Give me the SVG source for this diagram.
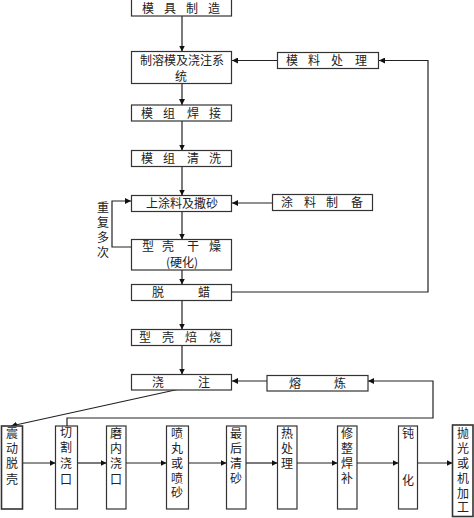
<svg xmlns="http://www.w3.org/2000/svg" width="474" height="518" viewBox="0 0 474 518">
<style>
.box{fill:#fff;stroke:#333;stroke-width:1.2}
.ln{fill:none;stroke:#222;stroke-width:1.2}
text{font-family:"Noto Sans CJK SC","Noto Sans CJK JP",sans-serif;font-size:12px;fill:#222}
.c{text-anchor:middle}
</style>
<defs>
<marker id="ah" viewBox="0 0 8 8" refX="8" refY="4" markerWidth="6" markerHeight="6" orient="auto" markerUnits="userSpaceOnUse">
<path d="M0,0 L8,4 L0,8 Z" fill="#111"/>
</marker>
</defs>
<g id="connectors">
<line class="ln" x1="182" y1="16" x2="182" y2="51.5" marker-end="url(#ah)"/>
<line class="ln" x1="182" y1="83.5" x2="182" y2="105" marker-end="url(#ah)"/>
<line class="ln" x1="182" y1="121" x2="182" y2="150.5" marker-end="url(#ah)"/>
<line class="ln" x1="182" y1="166" x2="182" y2="195.5" marker-end="url(#ah)"/>
<line class="ln" x1="182" y1="211" x2="182" y2="239.5" marker-end="url(#ah)"/>
<line class="ln" x1="182" y1="255" x2="182" y2="284.5" marker-end="url(#ah)"/>
<line class="ln" x1="182" y1="300.5" x2="182" y2="329.5" marker-end="url(#ah)"/>
<line class="ln" x1="182" y1="345.5" x2="182" y2="374.5" marker-end="url(#ah)"/>
<line class="ln" x1="277" y1="60.5" x2="232" y2="60.5" marker-end="url(#ah)"/>
<polyline class="ln" points="232,292 428,292 428,60.5 379,60.5" marker-end="url(#ah)"/>
<line class="ln" x1="272" y1="203" x2="232" y2="203" marker-end="url(#ah)"/>
<polyline class="ln" points="131,247 112,247 112,201 131,201" marker-end="url(#ah)"/>
<line class="ln" x1="267" y1="381" x2="232" y2="381" marker-end="url(#ah)"/>
<polyline class="ln" points="67,426 67,418 433,418 433,381 368,381" marker-end="url(#ah)"/>
<line class="ln" x1="182" y1="388.5" x2="11" y2="426" marker-end="url(#ah)"/>
<line class="ln" x1="23" y1="463" x2="55.5" y2="463" marker-end="url(#ah)"/>
<line class="ln" x1="77.5" y1="463" x2="106.5" y2="463" marker-end="url(#ah)"/>
<line class="ln" x1="126" y1="463" x2="166.5" y2="463" marker-end="url(#ah)"/>
<line class="ln" x1="188.5" y1="463" x2="226.5" y2="463" marker-end="url(#ah)"/>
<line class="ln" x1="246" y1="463" x2="277.5" y2="463" marker-end="url(#ah)"/>
<line class="ln" x1="297" y1="463" x2="337.5" y2="463" marker-end="url(#ah)"/>
<line class="ln" x1="357" y1="463" x2="398.5" y2="463" marker-end="url(#ah)"/>
<line class="ln" x1="417.5" y1="463" x2="452.5" y2="463" marker-end="url(#ah)"/>
</g>
<g id="n1"><rect class="box" x="131.5" y="-1" width="100" height="17"/><text x="148 170 192 214" y="13" class="c">模具制造</text></g>
<g id="n2"><rect class="box" x="131.5" y="51.5" width="100" height="32"/><text x="182" y="65" class="c">制溶模及浇注系</text><text x="181" y="81" class="c">统</text></g>
<g id="n3"><rect class="box" x="277.5" y="52.5" width="101" height="16"/><text x="292 314 337 361" y="65" class="c">模料处理</text></g>
<g id="n4"><rect class="box" x="131.5" y="105" width="100" height="16"/><text x="147 169 193 215" y="117.5" class="c">模组焊接</text></g>
<g id="n5"><rect class="box" x="131.5" y="150.5" width="100" height="16"/><text x="147 169 193 215" y="163" class="c">模组清洗</text></g>
<g id="n6"><rect class="box" x="131.5" y="195.5" width="100" height="16"/><text x="182" y="208" class="c">上涂料及撒砂</text></g>
<g id="n7"><rect class="box" x="272.5" y="194.5" width="100" height="16"/><text x="287 310 332 357" y="207" class="c">涂料制备</text></g>
<g id="n8"><rect class="box" x="131.5" y="239.5" width="100" height="30.5"/><text x="148 168 193 215" y="251" class="c">型壳干燥</text><text x="182" y="267" class="c">(硬化)</text></g>
<g id="loopLabel"><text x="103 103 103 103" y="212 227 242 257" class="c">重复多次</text></g>
<g id="n9"><rect class="box" x="131.5" y="284.5" width="100" height="16"/><text x="158 204" y="297" class="c">脱蜡</text></g>
<g id="n10"><rect class="box" x="131.5" y="329.5" width="100" height="16"/><text x="145 168 191 215" y="342" class="c">型壳焙烧</text></g>
<g id="n11"><rect class="box" x="131.5" y="374.5" width="100" height="15.5"/><text x="158 204" y="386.5" class="c">浇注</text></g>
<g id="n12"><rect class="box" x="267" y="375.5" width="101" height="15.5"/><text x="295 340" y="387.5" class="c">熔炼</text></g>
<g id="b1"><rect class="box" x="1.5" y="426" width="21" height="83" style="stroke-width:1.6"/><text x="12 12 12 12" y="438 453 468 484" class="c">震动脱壳</text></g>
<g id="b2"><rect class="box" x="55.5" y="426" width="22" height="83"/><text x="66 66 66 66" y="437 452 468 484" class="c">切割浇口</text></g>
<g id="b3"><rect class="box" x="106.5" y="426" width="19.5" height="83"/><text x="116 116 116 116" y="438 453 468 484" class="c">磨内浇口</text></g>
<g id="b4"><rect class="box" x="166.5" y="426" width="22" height="83"/><text x="177 177 177 177 177" y="438 452.5 467.5 482.5 497" class="c">喷丸或喷砂</text></g>
<g id="b5"><rect class="box" x="226.5" y="426" width="19.5" height="83"/><text x="236 236 236 236" y="438 452.5 467.5 482.5" class="c">最后清砂</text></g>
<g id="b6"><rect class="box" x="277.5" y="426" width="19.5" height="83"/><text x="287 287 287" y="438 452.5 467.5" class="c">热处理</text></g>
<g id="b7"><rect class="box" x="337.5" y="426" width="19.5" height="83"/><text x="347 347 347 347" y="438 452.5 467.5 482.5" class="c">修整焊补</text></g>
<g id="b8"><rect class="box" x="398.5" y="426" width="19" height="83"/><text x="408 408" y="438 485" class="c">钝化</text></g>
<g id="b9"><rect class="box" x="452.5" y="425" width="20.5" height="91.5" style="stroke-width:1.6"/><text x="463 463 463 463 463 463" y="438 452.5 467.5 482.5 497.5 512" class="c">抛光或机加工</text></g>
</svg>
